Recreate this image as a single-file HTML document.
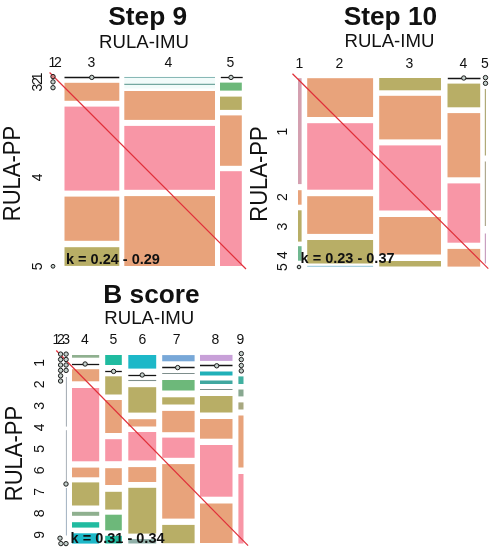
<!DOCTYPE html>
<html><head><meta charset="utf-8"><title>Mosaic plots</title>
<style>html,body{margin:0;padding:0;background:#fff;} svg{display:block;} text{font-family:"Liberation Sans", Arial, sans-serif;fill:#111;}</style>
</head><body>
<svg width="496" height="550" viewBox="0 0 496 550">
<rect width="496" height="550" fill="#fff"/>
<text x="147.70" y="25.00" font-size="26.3" font-weight="bold" text-anchor="middle">Step 9</text>
<text x="144.00" y="48.40" font-size="18.6" text-anchor="middle">RULA-IMU</text>
<text transform="translate(52.50,66.80) scale(1,1.1)" font-size="14" text-anchor="middle">1</text>
<text transform="translate(58.00,66.80) scale(1,1.1)" font-size="14" text-anchor="middle">2</text>
<text transform="translate(91.40,66.80) scale(1,1.1)" font-size="14" text-anchor="middle">3</text>
<text transform="translate(168.50,66.80) scale(1,1.1)" font-size="14" text-anchor="middle">4</text>
<text transform="translate(230.30,66.80) scale(1,1.1)" font-size="14" text-anchor="middle">5</text>
<text transform="translate(42.00,76.30) rotate(-90) scale(1,1.1)" font-size="14" text-anchor="middle">1</text>
<text transform="translate(42.00,81.00) rotate(-90) scale(1,1.1)" font-size="14" text-anchor="middle">2</text>
<text transform="translate(42.00,87.50) rotate(-90) scale(1,1.1)" font-size="14" text-anchor="middle">3</text>
<text transform="translate(42.00,177.25) rotate(-90) scale(1,1.1)" font-size="14" text-anchor="middle">4</text>
<text transform="translate(42.00,266.30) rotate(-90) scale(1,1.1)" font-size="14" text-anchor="middle">5</text>
<text transform="translate(20.30,173.50) rotate(-90) scale(1,1.07)" font-size="22" text-anchor="middle">RULA-PP</text>
<rect x="64.50" y="82.80" width="54.80" height="18.00" fill="#e8a37b"/>
<rect x="64.50" y="106.60" width="54.80" height="84.00" fill="#f896a6"/>
<rect x="64.50" y="196.60" width="54.80" height="44.20" fill="#e8a37b"/>
<rect x="64.50" y="247.20" width="54.80" height="18.70" fill="#b8ae66"/>
<rect x="124.30" y="76.50" width="90.70" height="12.00" fill="#f2fbfa"/>
<line x1="124.30" y1="77.50" x2="215.00" y2="77.50" stroke="#88b8b6" stroke-width="1.1"/>
<line x1="124.30" y1="84.40" x2="215.00" y2="84.40" stroke="#74a8a0" stroke-width="1.4"/>
<rect x="124.30" y="91.00" width="90.70" height="28.90" fill="#e8a37b"/>
<rect x="124.30" y="125.90" width="90.70" height="63.90" fill="#f896a6"/>
<rect x="124.30" y="196.10" width="90.70" height="69.90" fill="#e8a37b"/>
<rect x="220.00" y="82.60" width="21.80" height="8.00" fill="#6db87a"/>
<rect x="220.00" y="96.60" width="21.80" height="13.30" fill="#b8ae66"/>
<rect x="220.00" y="115.40" width="21.80" height="50.40" fill="#e8a37b"/>
<rect x="220.00" y="171.20" width="21.80" height="94.80" fill="#f896a6"/>
<line x1="64.50" y1="77.50" x2="119.30" y2="77.50" stroke="#151515" stroke-width="1.3"/>
<circle cx="91.80" cy="77.40" r="2.2" fill="#c4d0cc" stroke="#1c1c1c" stroke-width="1"/>
<line x1="220.80" y1="77.50" x2="242.70" y2="77.50" stroke="#151515" stroke-width="1.3"/>
<circle cx="231.00" cy="77.40" r="2.2" fill="#c4d0cc" stroke="#1c1c1c" stroke-width="1"/>
<circle cx="53.00" cy="81.90" r="2.2" fill="#c4d0cc" stroke="#1c1c1c" stroke-width="1"/>
<circle cx="53.00" cy="87.70" r="2.2" fill="#c4d0cc" stroke="#1c1c1c" stroke-width="1"/>
<circle cx="53.00" cy="266.30" r="1.9" fill="#c4d0cc" stroke="#1c1c1c" stroke-width="1"/>
<line x1="49.6" y1="72.5" x2="246" y2="269" stroke="#e0303a" stroke-width="1.2"/>
<circle cx="53.00" cy="76.60" r="2.2" fill="#d88080" stroke="#1c1c1c" stroke-width="1"/>
<text x="66.00" y="264.20" font-size="14.5" font-weight="bold" text-anchor="start">k = 0.24 - 0.29</text>
<text x="390.40" y="24.80" font-size="26.3" font-weight="bold" text-anchor="middle">Step 10</text>
<text x="389.40" y="47.40" font-size="18.6" text-anchor="middle">RULA-IMU</text>
<text transform="translate(299.50,67.60) scale(1,1.1)" font-size="14" text-anchor="middle">1</text>
<text transform="translate(339.50,67.60) scale(1,1.1)" font-size="14" text-anchor="middle">2</text>
<text transform="translate(409.50,67.60) scale(1,1.1)" font-size="14" text-anchor="middle">3</text>
<text transform="translate(463.30,67.60) scale(1,1.1)" font-size="14" text-anchor="middle">4</text>
<text transform="translate(485.00,67.60) scale(1,1.1)" font-size="14" text-anchor="middle">5</text>
<text transform="translate(287.00,131.50) rotate(-90) scale(1,1.1)" font-size="14" text-anchor="middle">1</text>
<text transform="translate(287.00,197.00) rotate(-90) scale(1,1.1)" font-size="14" text-anchor="middle">2</text>
<text transform="translate(287.00,226.50) rotate(-90) scale(1,1.1)" font-size="14" text-anchor="middle">3</text>
<text transform="translate(287.00,255.10) rotate(-90) scale(1,1.1)" font-size="14" text-anchor="middle">4</text>
<text transform="translate(287.00,267.00) rotate(-90) scale(1,1.1)" font-size="14" text-anchor="middle">5</text>
<text transform="translate(266.50,174.00) rotate(-90) scale(1,1.07)" font-size="22" text-anchor="middle">RULA-PP</text>
<rect x="298.00" y="78.20" width="3.60" height="105.90" fill="#d4a0b0"/>
<rect x="298.00" y="190.20" width="3.60" height="14.50" fill="#e8a37b"/>
<rect x="298.00" y="210.30" width="3.60" height="31.30" fill="#b8ae66"/>
<rect x="298.00" y="246.20" width="3.60" height="14.50" fill="#70b890"/>
<rect x="307.20" y="78.20" width="65.90" height="38.80" fill="#e8a37b"/>
<rect x="307.20" y="123.20" width="65.90" height="66.50" fill="#f896a6"/>
<rect x="307.20" y="196.20" width="65.90" height="37.70" fill="#e8a37b"/>
<rect x="307.20" y="240.00" width="65.90" height="23.50" fill="#b8ae66"/>
<line x1="307.20" y1="266.40" x2="373.10" y2="266.40" stroke="#a8d0e0" stroke-width="1.2"/>
<rect x="379.20" y="78.00" width="61.80" height="12.30" fill="#b8ae66"/>
<rect x="379.20" y="95.80" width="61.80" height="43.60" fill="#e8a37b"/>
<rect x="379.20" y="145.40" width="61.80" height="65.10" fill="#f896a6"/>
<rect x="379.20" y="217.00" width="61.80" height="37.50" fill="#e8a37b"/>
<rect x="379.20" y="261.00" width="61.80" height="5.50" fill="#b8ae66"/>
<rect x="447.50" y="83.60" width="32.70" height="23.70" fill="#b8ae66"/>
<rect x="447.50" y="113.10" width="32.70" height="64.20" fill="#e8a37b"/>
<rect x="447.50" y="183.40" width="32.70" height="59.30" fill="#f896a6"/>
<rect x="447.50" y="248.90" width="32.70" height="17.70" fill="#e8a37b"/>
<line x1="447.80" y1="78.50" x2="480.50" y2="78.50" stroke="#151515" stroke-width="1.3"/>
<circle cx="463.80" cy="78.00" r="2.2" fill="#c4d0cc" stroke="#1c1c1c" stroke-width="1"/>
<line x1="485.40" y1="89.00" x2="485.40" y2="155.50" stroke="#b0aa78" stroke-width="1.2"/>
<line x1="485.40" y1="161.40" x2="485.40" y2="226.00" stroke="#b0aa90" stroke-width="1.2"/>
<line x1="485.40" y1="233.60" x2="485.40" y2="263.60" stroke="#c8a0c0" stroke-width="1.2"/>
<circle cx="485.50" cy="77.60" r="2.2" fill="#c4d0cc" stroke="#1c1c1c" stroke-width="1"/>
<circle cx="485.50" cy="83.30" r="2.2" fill="#c4d0cc" stroke="#1c1c1c" stroke-width="1"/>
<circle cx="299.00" cy="267.00" r="1.8" fill="#c4d0cc" stroke="#1c1c1c" stroke-width="1"/>
<line x1="292.5" y1="73.75" x2="488.3" y2="268.6" stroke="#e0303a" stroke-width="1.2"/>
<text x="300.60" y="263.10" font-size="14.5" font-weight="bold" text-anchor="start">k = 0.23 - 0.37</text>
<text x="151.50" y="302.50" font-size="26.3" font-weight="bold" text-anchor="middle">B score</text>
<text x="149.30" y="323.80" font-size="18.6" text-anchor="middle">RULA-IMU</text>
<text transform="translate(56.30,344.40) scale(1,1.1)" font-size="14" text-anchor="middle">1</text>
<text transform="translate(61.00,344.40) scale(1,1.1)" font-size="14" text-anchor="middle">2</text>
<text transform="translate(66.20,344.40) scale(1,1.1)" font-size="14" text-anchor="middle">3</text>
<text transform="translate(85.00,344.40) scale(1,1.1)" font-size="14" text-anchor="middle">4</text>
<text transform="translate(113.40,344.40) scale(1,1.1)" font-size="14" text-anchor="middle">5</text>
<text transform="translate(142.50,344.40) scale(1,1.1)" font-size="14" text-anchor="middle">6</text>
<text transform="translate(176.60,344.40) scale(1,1.1)" font-size="14" text-anchor="middle">7</text>
<text transform="translate(215.50,344.40) scale(1,1.1)" font-size="14" text-anchor="middle">8</text>
<text transform="translate(240.50,344.40) scale(1,1.1)" font-size="14" text-anchor="middle">9</text>
<text transform="translate(44.00,362.90) rotate(-90) scale(1,1.1)" font-size="14" text-anchor="middle">1</text>
<text transform="translate(44.00,384.40) rotate(-90) scale(1,1.1)" font-size="14" text-anchor="middle">2</text>
<text transform="translate(44.00,405.90) rotate(-90) scale(1,1.1)" font-size="14" text-anchor="middle">3</text>
<text transform="translate(44.00,427.40) rotate(-90) scale(1,1.1)" font-size="14" text-anchor="middle">4</text>
<text transform="translate(44.00,448.90) rotate(-90) scale(1,1.1)" font-size="14" text-anchor="middle">5</text>
<text transform="translate(44.00,470.40) rotate(-90) scale(1,1.1)" font-size="14" text-anchor="middle">6</text>
<text transform="translate(44.00,491.90) rotate(-90) scale(1,1.1)" font-size="14" text-anchor="middle">7</text>
<text transform="translate(44.00,513.40) rotate(-90) scale(1,1.1)" font-size="14" text-anchor="middle">8</text>
<text transform="translate(44.00,534.90) rotate(-90) scale(1,1.1)" font-size="14" text-anchor="middle">9</text>
<text transform="translate(22.20,453.50) rotate(-90) scale(1,1.07)" font-size="22" text-anchor="middle">RULA-PP</text>
<line x1="66.40" y1="377.00" x2="66.40" y2="426.60" stroke="#a0a8b0" stroke-width="1.0"/>
<line x1="66.40" y1="430.20" x2="66.40" y2="481.00" stroke="#a8b0b8" stroke-width="1.0"/>
<line x1="66.40" y1="488.00" x2="66.40" y2="535.50" stroke="#a0b0c0" stroke-width="1.0"/>
<rect x="72.00" y="355.00" width="27.20" height="2.70" fill="#8fb08f"/>
<rect x="72.00" y="369.20" width="27.20" height="12.10" fill="#e8a37b"/>
<rect x="72.00" y="388.00" width="27.20" height="73.30" fill="#f896a6"/>
<rect x="72.00" y="467.60" width="27.20" height="9.70" fill="#e8a37b"/>
<rect x="72.00" y="482.40" width="27.20" height="23.10" fill="#b8ae66"/>
<rect x="72.00" y="511.80" width="27.20" height="4.00" fill="#8fb08f"/>
<rect x="72.00" y="522.20" width="27.20" height="5.40" fill="#20bba0"/>
<rect x="72.00" y="533.30" width="27.20" height="10.30" fill="#1db8c8"/>
<line x1="72.00" y1="364.50" x2="99.20" y2="364.50" stroke="#151515" stroke-width="1.3"/>
<circle cx="85.10" cy="364.00" r="2.2" fill="#c4d0cc" stroke="#1c1c1c" stroke-width="1"/>
<rect x="105.20" y="355.00" width="16.60" height="10.00" fill="#20bba0"/>
<rect x="105.20" y="376.30" width="16.60" height="18.20" fill="#b8ae66"/>
<rect x="105.20" y="400.00" width="16.60" height="33.00" fill="#e8a37b"/>
<rect x="105.20" y="439.20" width="16.60" height="22.00" fill="#f896a6"/>
<rect x="105.20" y="468.20" width="16.60" height="16.80" fill="#e8a37b"/>
<rect x="105.20" y="491.80" width="16.60" height="17.80" fill="#b8ae66"/>
<rect x="105.20" y="514.70" width="16.60" height="15.70" fill="#6db87a"/>
<rect x="105.20" y="535.80" width="16.60" height="7.70" fill="#20bba0"/>
<line x1="105.20" y1="371.50" x2="121.80" y2="371.50" stroke="#151515" stroke-width="1.3"/>
<circle cx="113.60" cy="371.40" r="2.2" fill="#c4d0cc" stroke="#1c1c1c" stroke-width="1"/>
<rect x="128.30" y="355.00" width="27.90" height="13.60" fill="#1db8c8"/>
<rect x="128.30" y="387.20" width="27.90" height="25.40" fill="#b8ae66"/>
<rect x="128.30" y="419.20" width="27.90" height="7.30" fill="#e8a37b"/>
<rect x="128.30" y="432.00" width="27.90" height="28.50" fill="#f896a6"/>
<rect x="128.30" y="467.10" width="27.90" height="14.90" fill="#e8a37b"/>
<rect x="128.30" y="487.80" width="27.90" height="45.80" fill="#b8ae66"/>
<rect x="128.30" y="539.10" width="27.90" height="4.40" fill="#90b0a8"/>
<line x1="128.30" y1="380.50" x2="156.20" y2="380.50" stroke="#7e8e8c" stroke-width="1.1"/>
<line x1="128.30" y1="375.50" x2="156.20" y2="375.50" stroke="#151515" stroke-width="1.3"/>
<circle cx="142.20" cy="375.00" r="2.2" fill="#c4d0cc" stroke="#1c1c1c" stroke-width="1"/>
<rect x="162.20" y="355.10" width="32.40" height="6.20" fill="#78a8d8"/>
<rect x="162.20" y="380.00" width="32.40" height="10.50" fill="#6db87a"/>
<rect x="162.20" y="397.30" width="32.40" height="7.20" fill="#b8ae66"/>
<rect x="162.20" y="410.90" width="32.40" height="21.30" fill="#e8a37b"/>
<rect x="162.20" y="437.60" width="32.40" height="20.20" fill="#f896a6"/>
<rect x="162.20" y="464.10" width="32.40" height="54.50" fill="#e8a37b"/>
<rect x="162.20" y="524.90" width="32.40" height="18.30" fill="#b8ae66"/>
<line x1="162.20" y1="373.50" x2="194.60" y2="373.50" stroke="#7e8e8c" stroke-width="1.1"/>
<line x1="162.20" y1="367.50" x2="194.60" y2="367.50" stroke="#151515" stroke-width="1.3"/>
<circle cx="177.70" cy="367.60" r="2.2" fill="#c4d0cc" stroke="#1c1c1c" stroke-width="1"/>
<rect x="200.00" y="354.90" width="32.50" height="6.00" fill="#c8a0d8"/>
<rect x="200.00" y="371.50" width="32.50" height="4.00" fill="#20b0b8"/>
<rect x="200.00" y="380.50" width="32.50" height="3.50" fill="#40a8a0"/>
<rect x="200.00" y="396.00" width="32.50" height="16.50" fill="#b8ae66"/>
<rect x="200.00" y="419.00" width="32.50" height="19.70" fill="#e8a37b"/>
<rect x="200.00" y="445.00" width="32.50" height="51.70" fill="#f896a6"/>
<rect x="200.00" y="503.50" width="32.50" height="39.50" fill="#e8a37b"/>
<line x1="200.00" y1="389.50" x2="232.50" y2="389.50" stroke="#7e8e8c" stroke-width="1.1"/>
<line x1="200.00" y1="365.50" x2="232.50" y2="365.50" stroke="#151515" stroke-width="1.3"/>
<circle cx="216.70" cy="365.80" r="2.2" fill="#c4d0cc" stroke="#1c1c1c" stroke-width="1"/>
<rect x="238.40" y="376.40" width="5.10" height="7.60" fill="#40b0a0"/>
<rect x="238.40" y="389.50" width="5.10" height="6.90" fill="#88a890"/>
<rect x="238.40" y="402.40" width="5.10" height="7.10" fill="#a8a880"/>
<rect x="238.40" y="415.50" width="5.10" height="52.00" fill="#e8a37b"/>
<rect x="238.40" y="474.00" width="5.10" height="69.50" fill="#f896a6"/>
<line x1="56.25" y1="350.5" x2="248.1" y2="545.7" stroke="#e0303a" stroke-width="1.2"/>
<circle cx="241.30" cy="353.60" r="2.2" fill="#c4d0cc" stroke="#1c1c1c" stroke-width="1"/>
<circle cx="241.30" cy="359.60" r="2.2" fill="#c4d0cc" stroke="#1c1c1c" stroke-width="1"/>
<circle cx="241.30" cy="365.50" r="2.2" fill="#c4d0cc" stroke="#1c1c1c" stroke-width="1"/>
<circle cx="241.30" cy="370.90" r="2.2" fill="#c4d0cc" stroke="#1c1c1c" stroke-width="1"/>
<circle cx="60.60" cy="354.10" r="2.2" fill="#c4d0cc" stroke="#1c1c1c" stroke-width="1"/>
<circle cx="60.60" cy="359.50" r="2.2" fill="#c4d0cc" stroke="#1c1c1c" stroke-width="1"/>
<circle cx="60.60" cy="365.00" r="2.2" fill="#c4d0cc" stroke="#1c1c1c" stroke-width="1"/>
<circle cx="60.60" cy="370.40" r="2.2" fill="#c4d0cc" stroke="#1c1c1c" stroke-width="1"/>
<circle cx="60.60" cy="375.80" r="2.2" fill="#c4d0cc" stroke="#1c1c1c" stroke-width="1"/>
<circle cx="60.60" cy="381.00" r="2.2" fill="#c4d0cc" stroke="#1c1c1c" stroke-width="1"/>
<circle cx="66.10" cy="354.10" r="2.2" fill="#c4d0cc" stroke="#1c1c1c" stroke-width="1"/>
<circle cx="66.10" cy="359.50" r="2.2" fill="#c4d0cc" stroke="#1c1c1c" stroke-width="1"/>
<circle cx="66.10" cy="365.00" r="2.2" fill="#c4d0cc" stroke="#1c1c1c" stroke-width="1"/>
<circle cx="66.10" cy="370.40" r="2.2" fill="#c4d0cc" stroke="#1c1c1c" stroke-width="1"/>
<circle cx="66.00" cy="484.00" r="2.2" fill="#c4d0cc" stroke="#1c1c1c" stroke-width="1"/>
<circle cx="60.00" cy="538.20" r="2.2" fill="#c4d0cc" stroke="#1c1c1c" stroke-width="1"/>
<circle cx="60.90" cy="543.60" r="2.2" fill="#c4d0cc" stroke="#1c1c1c" stroke-width="1"/>
<circle cx="66.00" cy="543.60" r="2.2" fill="#c4d0cc" stroke="#1c1c1c" stroke-width="1"/>
<text x="70.60" y="543.00" font-size="14.5" font-weight="bold" text-anchor="start">k = 0.31 - 0.34</text>
</svg>
</body></html>
